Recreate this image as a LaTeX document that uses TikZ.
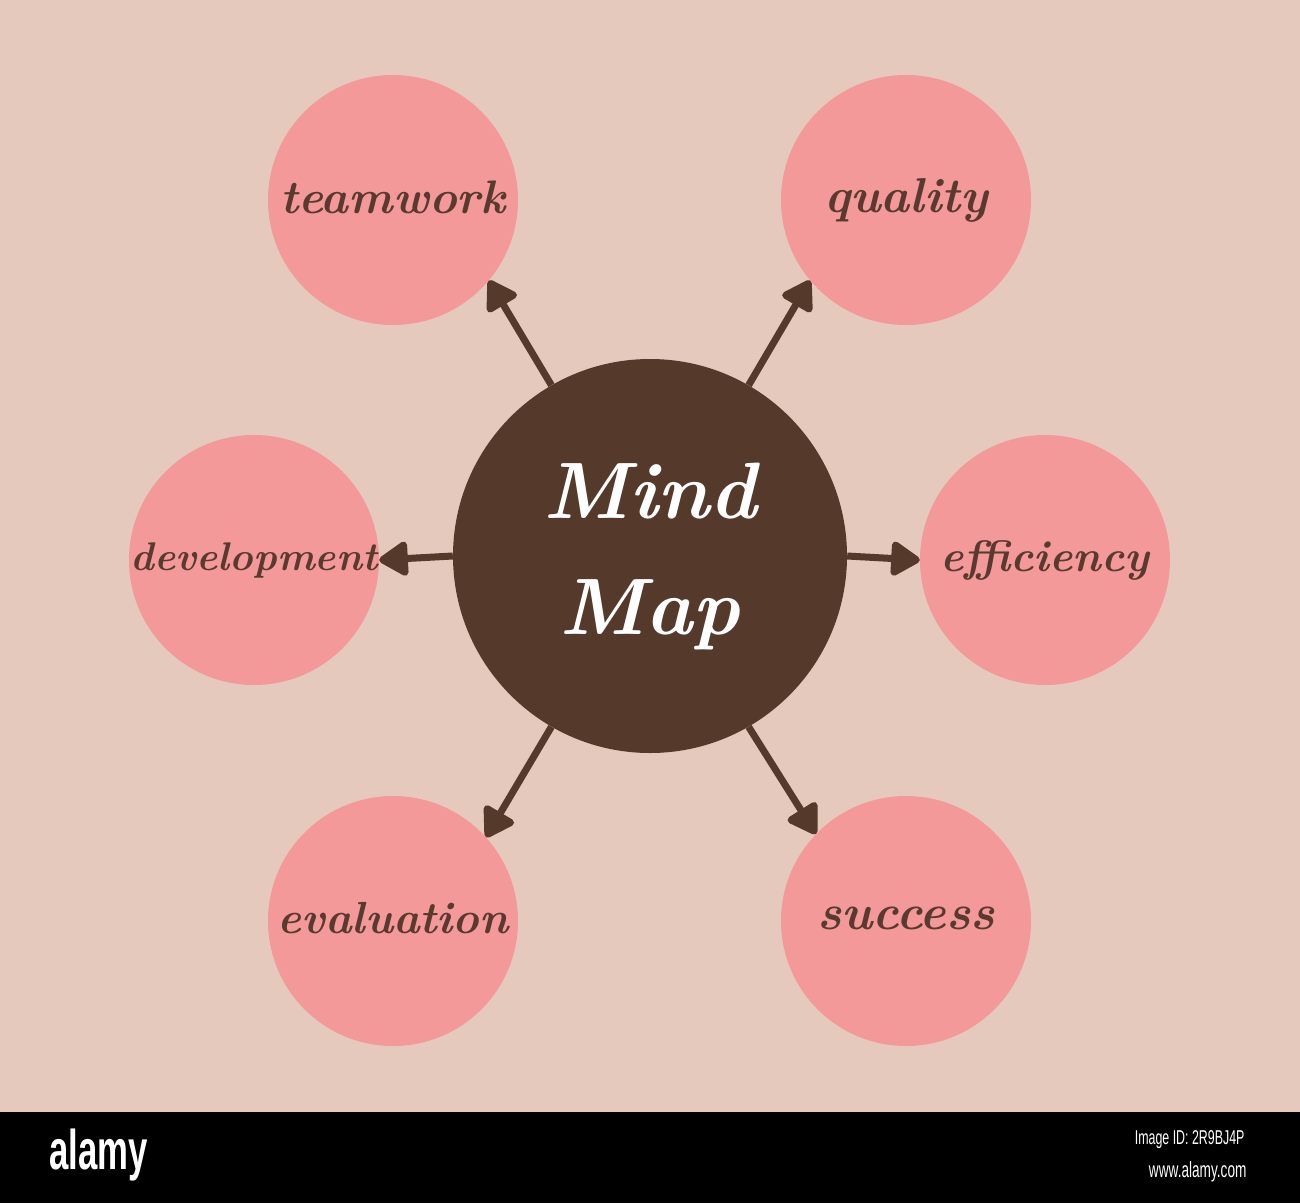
\documentclass[tikz,border=0pt]{standalone}
\usepackage{fontspec}
\usetikzlibrary{arrows.meta}
\newfontfamily\barfont{Liberation Sans}[FakeStretch=0.62]
\definecolor{bgbeige}{HTML}{E4C9BC}
\definecolor{pinkc}{HTML}{F4999A}
\definecolor{brownc}{HTML}{55392B}
\definecolor{textbrown}{HTML}{5A3A2E}
\newcommand{\lblsize}[1]{\fontsize{#1}{#1}\selectfont\bfseries\itshape}
\newcommand{\lbltext}[1]{\makebox[0pt][c]{\raisebox{6pt}{#1}}}
\tikzset{
  leaf/.style={circle, fill=pinkc, minimum size=250pt, inner sep=0pt, text=textbrown},
  hub/.style={circle, fill=brownc, minimum size=394pt, inner sep=0pt, text=white,
    align=center, font=\fontsize{80}{112}\selectfont\bfseries\itshape},
  link/.style={draw=brownc, line width=7pt,
    -{Triangle[round, width=38pt, length=32pt]}},
}
\begin{document}
\begin{tikzpicture}[x=1pt, y=-1pt]
\useasboundingbox (0,0) rectangle (1300,1203);
\fill[bgbeige] (0,0) rectangle (1300,1112);
\fill[black] (0,1112) rectangle (1300,1203);
\node[hub] (c) at (650,556) {\raisebox{4pt}{Mind}\\Map};
\node[leaf, font=\lblsize{47}] (t) at (393,200) {\lbltext{teamwork}};
\node[leaf, font=\lblsize{49}] (q) at (906,200) {\lbltext{quality}};
\node[leaf, font=\lblsize{40}] (d) at (254,560) {\lbltext{development}};
\node[leaf, font=\lblsize{44}] (e) at (1045,560) {\lbltext{efficiency}};
\node[leaf, font=\lblsize{45}] (v) at (393,921) {\lbltext{evaluation}};
\node[leaf, font=\lblsize{50}] (s) at (906,921) {\lbltext{success}};
\draw[link] (c.120) -- (t.-40);
\draw[link] (c.60) -- (q.220);
\draw[link] (c.180) -- (d.0);
\draw[link] (c.0) -- (e.180);
\draw[link] (c.240) -- (v.42);
\draw[link] (c.300) -- (s.136);
\node[text=white, font=\barfont\fontsize{56}{56}\selectfont\bfseries, anchor=west] (logo) at (46,1155) {alamy};
\node[text=white, font=\barfont\fontsize{20}{20}\selectfont, anchor=east] (iid) at (1248,1140) {Image ID: 2R9BJ4P};
\node[text=white, font=\barfont\fontsize{22}{22}\selectfont, anchor=east] (www) at (1250,1172) {www.alamy.com};
\end{tikzpicture}
\end{document}
